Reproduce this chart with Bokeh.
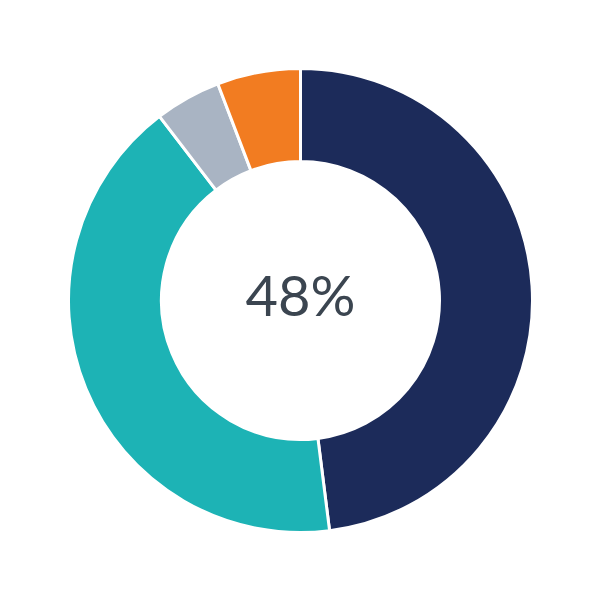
import numpy as np
from bokeh.plotting import figure
from bokeh.models import ColumnDataSource
from bokeh.core.properties import value
from bokeh.embed import file_html
from bokeh.resources import INLINE

categories = ["Navy", "Teal", "Gray", "Orange"]
shares = [48.0, 41.6, 4.6, 5.8]
colors = ["#1c2b5a", "#1db3b5", "#a9b4c3", "#f27c21"]
center_label = "48%"

vals = np.array(shares)
frac = vals / vals.sum()
cum_end = np.cumsum(frac)
cum_start = cum_end - frac
start = np.pi / 2 - cum_start * 2 * np.pi
end = np.pi / 2 - cum_end * 2 * np.pi

src = ColumnDataSource(dict(cat=categories, start=start, end=end, color=colors))

W = 584
p = figure(width=W, height=W, x_range=(-300, 284), y_range=(-284, 300),
           output_backend="svg", toolbar_location=None, min_border=0)
p.axis.visible = False
p.grid.visible = False
p.outline_line_color = None
p.background_fill_color = "white"
p.border_fill_color = "white"

p.annular_wedge(x=0, y=0, inner_radius=139, outer_radius=232,
                start_angle="start", end_angle="end", direction="clock",
                fill_color="color", line_color="white", line_width=3, source=src)

p.text(x=[0], y=[0], text=[center_label], text_align="center", text_baseline="middle",
       y_offset=-6,
       text_font=value("Lato"), text_font_size="56px", text_color="#3b4550",
       text_font_style="normal")

open("out.html", "w").write(file_html(p, INLINE))
